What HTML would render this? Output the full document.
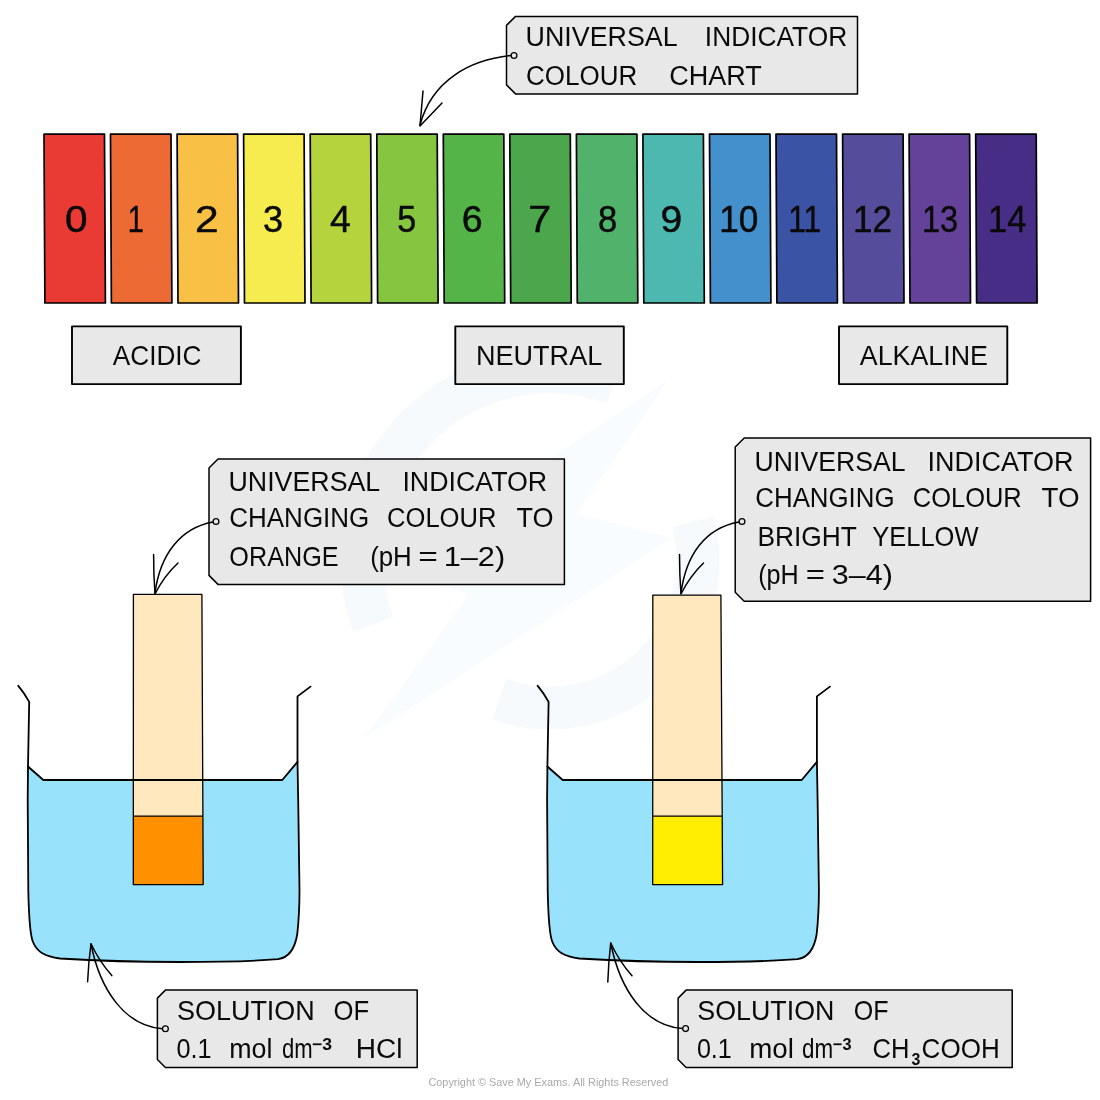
<!DOCTYPE html>
<html lang="en">
<head>
<meta charset="utf-8">
<title>Universal indicator colour chart</title>
<style>
html,body{margin:0;padding:0;background:#fff;}
body{width:1100px;height:1100px;overflow:hidden;}
svg{display:block;will-change:transform;}
text{font-family:"Liberation Sans","DejaVu Sans",sans-serif;fill:#0a0a0a;}
.c{fill:#a9a9a9;}
.box{fill:#e8e8e8;stroke:#000;stroke-width:1.9;stroke-linejoin:round;}
.cb{fill:#e8e8e8;stroke:#000;stroke-width:1.5;stroke-linejoin:round;}
.ln{fill:none;stroke:#000;stroke-width:1.8;stroke-linecap:round;stroke-linejoin:round;}
.ar{fill:none;stroke:#000;stroke-width:1.5;stroke-linecap:round;stroke-linejoin:round;}
</style>
</head>
<body>
<svg width="1100" height="1100" viewBox="0 0 1100 1100">
<rect x="0" y="0" width="1100" height="1100" fill="#ffffff"/>
<g fill="none" stroke="#f6fafd" stroke-width="43">
<path d="M 373.3,624.3 A 188,188 0 0 1 614.3,383.3"/>
<path d="M 693,521.7 A 148,148 0 0 1 499.4,699"/>
</g>
<path d="M668,380 L577,514 L672,538 L363,739 L468,596 L395,560 Z" fill="#f9fcfe"/>

<path d="M44.0,134.2 L104.5,134.2 L105.4,303 L44.9,303 Z" fill="#EA3A34" stroke="#000" stroke-width="1.7" stroke-linejoin="round"/>
<path d="M110.5,134.2 L171.0,134.2 L171.9,303 L111.4,303 Z" fill="#EE6A35" stroke="#000" stroke-width="1.7" stroke-linejoin="round"/>
<path d="M177.1,134.2 L237.6,134.2 L238.5,303 L178.0,303 Z" fill="#F8C044" stroke="#000" stroke-width="1.7" stroke-linejoin="round"/>
<path d="M243.6,134.2 L304.1,134.2 L305.0,303 L244.5,303 Z" fill="#F7EC4F" stroke="#000" stroke-width="1.7" stroke-linejoin="round"/>
<path d="M310.2,134.2 L370.7,134.2 L371.6,303 L311.1,303 Z" fill="#B5D33D" stroke="#000" stroke-width="1.7" stroke-linejoin="round"/>
<path d="M376.8,134.2 L437.2,134.2 L438.1,303 L377.6,303 Z" fill="#86C540" stroke="#000" stroke-width="1.7" stroke-linejoin="round"/>
<path d="M443.3,134.2 L503.8,134.2 L504.7,303 L444.2,303 Z" fill="#55B448" stroke="#000" stroke-width="1.7" stroke-linejoin="round"/>
<path d="M509.8,134.2 L570.3,134.2 L571.2,303 L510.7,303 Z" fill="#4CA64C" stroke="#000" stroke-width="1.7" stroke-linejoin="round"/>
<path d="M576.4,134.2 L636.9,134.2 L637.8,303 L577.3,303 Z" fill="#50B26B" stroke="#000" stroke-width="1.7" stroke-linejoin="round"/>
<path d="M642.9,134.2 L703.4,134.2 L704.3,303 L643.8,303 Z" fill="#4DB8B0" stroke="#000" stroke-width="1.7" stroke-linejoin="round"/>
<path d="M709.5,134.2 L770.0,134.2 L770.9,303 L710.4,303 Z" fill="#4390CC" stroke="#000" stroke-width="1.7" stroke-linejoin="round"/>
<path d="M776.0,134.2 L836.5,134.2 L837.4,303 L776.9,303 Z" fill="#3B53A4" stroke="#000" stroke-width="1.7" stroke-linejoin="round"/>
<path d="M842.6,134.2 L903.1,134.2 L904.0,303 L843.5,303 Z" fill="#564C9C" stroke="#000" stroke-width="1.7" stroke-linejoin="round"/>
<path d="M909.1,134.2 L969.6,134.2 L970.5,303 L910.0,303 Z" fill="#65429A" stroke="#000" stroke-width="1.7" stroke-linejoin="round"/>
<path d="M975.7,134.2 L1036.2,134.2 L1037.1,303 L976.6,303 Z" fill="#472D85" stroke="#000" stroke-width="1.7" stroke-linejoin="round"/>
<text stroke="#0a0a0a" stroke-width="0.45" stroke-linejoin="round" font-size="36.6" transform="translate(64.90,231.60) scale(1.1071,1)">0</text>
<text stroke="#0a0a0a" stroke-width="0.45" stroke-linejoin="round" font-size="36.6" transform="translate(127.66,231.60) scale(0.7883,1)">1</text>
<text stroke="#0a0a0a" stroke-width="0.45" stroke-linejoin="round" font-size="36.6" transform="translate(195.10,231.60) scale(1.1620,1)">2</text>
<text stroke="#0a0a0a" stroke-width="0.45" stroke-linejoin="round" font-size="36.6" transform="translate(262.88,231.60) scale(0.9865,1)">3</text>
<text stroke="#0a0a0a" stroke-width="0.45" stroke-linejoin="round" font-size="36.6" transform="translate(330.07,231.60) scale(1.0253,1)">4</text>
<text stroke="#0a0a0a" stroke-width="0.45" stroke-linejoin="round" font-size="36.6" transform="translate(397.26,231.60) scale(0.9347,1)">5</text>
<text stroke="#0a0a0a" stroke-width="0.45" stroke-linejoin="round" font-size="36.6" transform="translate(461.75,231.60) scale(1.0253,1)">6</text>
<text stroke="#0a0a0a" stroke-width="0.45" stroke-linejoin="round" font-size="36.6" transform="translate(528.26,231.60) scale(1.1259,1)">7</text>
<text stroke="#0a0a0a" stroke-width="0.45" stroke-linejoin="round" font-size="36.6" transform="translate(598.07,231.60) scale(0.9447,1)">8</text>
<text stroke="#0a0a0a" stroke-width="0.45" stroke-linejoin="round" font-size="36.6" transform="translate(660.57,231.60) scale(1.0665,1)">9</text>
<text stroke="#0a0a0a" stroke-width="0.45" stroke-linejoin="round" font-size="36.6" transform="translate(719.19,231.60) scale(0.9604,1)">10</text>
<text stroke="#0a0a0a" stroke-width="0.45" stroke-linejoin="round" font-size="36.6" transform="translate(788.24,231.60) scale(0.8674,1)">11</text>
<text stroke="#0a0a0a" stroke-width="0.45" stroke-linejoin="round" font-size="36.6" transform="translate(852.99,231.60) scale(0.9584,1)">12</text>
<text stroke="#0a0a0a" stroke-width="0.45" stroke-linejoin="round" font-size="36.6" transform="translate(921.99,231.60) scale(0.8883,1)">13</text>
<text stroke="#0a0a0a" stroke-width="0.45" stroke-linejoin="round" font-size="36.6" transform="translate(987.93,231.60) scale(0.9447,1)">14</text>
<rect class="box" x="72" y="326.4" width="168.9" height="57.7"/>
<text font-size="28.5" transform="translate(112.80,364.80) scale(0.9186,1)">ACIDIC</text>
<rect class="box" x="455.3" y="326.4" width="168.5" height="57.7"/>
<text font-size="28.5" transform="translate(476.04,364.80) scale(0.9490,1)">NEUTRAL</text>
<rect class="box" x="839" y="326.4" width="168.3" height="57.7"/>
<text font-size="28.5" transform="translate(859.80,364.80) scale(0.9409,1)">ALKALINE</text>
<path class="cb" d="M515.5,16.4 L857.5,16.4 L857.5,93.9 L515.5,93.9 L506.5,84.9 L506.5,25.4 Z"/>
<text font-size="28.0" transform="translate(525.59,46.00) scale(0.9588,1)">UNIVERSAL</text>
<text font-size="28.0" transform="translate(704.83,46.00) scale(0.9406,1)">INDICATOR</text>
<text font-size="28.0" transform="translate(526.00,84.70) scale(0.9287,1)">COLOUR</text>
<text font-size="28.0" transform="translate(669.15,84.70) scale(0.9666,1)">CHART</text>
<path class="ar" d="M511,55.5 C470,60 432,80 420,125"/>
<path class="ar" d="M423,91 L420,126 L442,103"/>
<circle cx="514" cy="55.5" r="2.9" fill="#e8e8e8" stroke="#000" stroke-width="1.3"/>
<g transform="translate(0,0)">
<path d="M28,766.5 L43.3,780 L282.3,780 L297.5,761.8 L298.2,800 L299.5,890 C299.5,905 298.8,920 297.3,934 C295,948 290,957.5 278,959.2 C255,961 220,962 179,962 C140,962 100,961 60,958.5 C45,956.5 37,952 33,942 C30,935 28.8,915 28.3,890 L27.7,800 Z" fill="#99e2fc"/>
<path d="M133.4,594.4 L201.9,594.4 L202.9,816.1 L133.3,816.1 Z" fill="#ffe7be"/>
<path d="M133.3,816.1 L202.9,816.1 L203.2,884.6 L133.3,884.6 Z" fill="#ff9000"/>
<path class="ln" style="stroke-width:1.3" d="M133.4,594.4 L201.9,594.4 L203.2,884.6 L133.3,884.6 Z M133.3,816.1 L202.9,816.1"/>
<path class="ln" d="M18.3,685.8 Q24,692.5 29.2,701.9 L28,766.5 L27.7,800 L28.3,890 C28.8,915 30,935 33,942 C37,952 45,956.5 60,958.5 C100,961 140,962 179,962 C220,962 255,961 278,959.2 C290,957.5 295,948 297.3,934 C298.8,920 299.5,905 299.5,890 L298.2,800 L297.5,761.8 L297.5,696.4 L310.5,686.6"/>
<path class="ln" d="M28,766.5 L43.3,780 L282.3,780 L297.5,761.8"/>
</g>
<g transform="translate(519.4,0)">
<path d="M28,766.5 L43.3,780 L282.3,780 L297.5,761.8 L298.2,800 L299.5,890 C299.5,905 298.8,920 297.3,934 C295,948 290,957.5 278,959.2 C255,961 220,962 179,962 C140,962 100,961 60,958.5 C45,956.5 37,952 33,942 C30,935 28.8,915 28.3,890 L27.7,800 Z" fill="#99e2fc"/>
<path d="M133.4,595.2 L201.5,595.2 L202.9,816.1 L133.3,816.1 Z" fill="#ffe7be"/>
<path d="M133.3,816.1 L202.9,816.1 L203.2,884.6 L133.3,884.6 Z" fill="#ffee00"/>
<path class="ln" style="stroke-width:1.3" d="M133.4,595.2 L201.5,595.2 L203.2,884.6 L133.3,884.6 Z M133.3,816.1 L202.9,816.1"/>
<path class="ln" d="M18.3,685.8 Q24,692.5 29.2,701.9 L28,766.5 L27.7,800 L28.3,890 C28.8,915 30,935 33,942 C37,952 45,956.5 60,958.5 C100,961 140,962 179,962 C220,962 255,961 278,959.2 C290,957.5 295,948 297.3,934 C298.8,920 299.5,905 299.5,890 L298.2,800 L297.5,761.8 L297.5,696.4 L310.5,686.6"/>
<path class="ln" d="M28,766.5 L43.3,780 L282.3,780 L297.5,761.8"/>
</g>
<path class="cb" d="M218,459 L564.4,459 L564.4,584.4 L218,584.4 L209,575.4 L209,468 Z"/>
<text font-size="27.4" transform="translate(228.49,491.30) scale(0.9778,1)">UNIVERSAL</text>
<text font-size="27.4" transform="translate(402.39,491.30) scale(0.9779,1)">INDICATOR</text>
<text font-size="27.4" transform="translate(229.20,527.00) scale(0.9497,1)">CHANGING</text>
<text font-size="27.4" transform="translate(387.02,527.00) scale(0.9342,1)">COLOUR</text>
<text font-size="27.4" transform="translate(516.46,527.00) scale(0.9872,1)">TO</text>
<text font-size="27.4" transform="translate(229.37,566.40) scale(0.9199,1)">ORANGE</text>
<text font-size="27.4" transform="translate(370.15,566.40) scale(0.9434,1)">(pH</text>
<text font-size="27.4" transform="translate(418.32,566.40) scale(1.2266,1)">=</text>
<text font-size="27.4" transform="translate(443.70,566.40) scale(1.1213,1)">1–2)</text>
<path class="ar" d="M213,522 C180,528 160,555 155,593"/>
<path class="ar" d="M153.6,554.5 Q153.6,575 155,594 Q164,576 178,563"/>
<circle cx="216" cy="521.5" r="2.9" fill="#e8e8e8" stroke="#000" stroke-width="1.3"/>
<path class="cb" d="M744.2,438 L1090.6,438 L1090.6,601.2 L744.2,601.2 L735.2,592.2 L735.2,447 Z"/>
<text font-size="27.4" transform="translate(754.60,471.20) scale(0.9719,1)">UNIVERSAL</text>
<text font-size="27.4" transform="translate(927.57,471.20) scale(0.9855,1)">INDICATOR</text>
<text font-size="27.4" transform="translate(755.31,506.90) scale(0.9434,1)">CHANGING</text>
<text font-size="27.4" transform="translate(912.83,506.90) scale(0.9290,1)">COLOUR</text>
<text font-size="27.4" transform="translate(1041.45,506.90) scale(1.0124,1)">TO</text>
<text font-size="27.4" transform="translate(757.39,545.90) scale(0.9613,1)">BRIGHT</text>
<text font-size="27.4" transform="translate(872.36,545.90) scale(0.9292,1)">YELLOW</text>
<text font-size="27.4" transform="translate(758.19,583.60) scale(0.9186,1)">(pH</text>
<text font-size="27.4" transform="translate(805.85,583.60) scale(1.2040,1)">=</text>
<text font-size="27.4" transform="translate(831.78,583.60) scale(1.1141,1)">3–4)</text>
<path class="ar" d="M739,522 C705,528 686,555 681,593"/>
<path class="ar" d="M679.5,554.5 Q679.5,575 681,594 Q690,576 703.5,563"/>
<circle cx="742" cy="521.5" r="2.9" fill="#e8e8e8" stroke="#000" stroke-width="1.3"/>
<path class="cb" d="M165.4,990.1 L417.2,990.1 L417.2,1067.5 L165.4,1067.5 L157.4,1059.5 L157.4,998.1 Z"/>
<text font-size="27.4" transform="translate(176.99,1019.80) scale(0.9840,1)">SOLUTION</text>
<text font-size="27.4" transform="translate(333.44,1019.80) scale(0.9369,1)">OF</text>
<text font-size="27.4" transform="translate(176.49,1057.80) scale(0.9229,1)">0.1</text>
<text font-size="27.4" transform="translate(229.26,1057.80) scale(0.9790,1)">mol</text>
<text font-size="27.4" transform="translate(281.92,1057.80) scale(0.8066,1)">dm</text>
<text font-weight="bold" font-size="16.6" transform="translate(312.10,1050.00) scale(1.0578,1)">−3</text>
<text font-size="27.4" transform="translate(355.76,1057.80) scale(1.0229,1)">HCl</text>
<path class="ar" d="M162.5,1028.8 C125,1026 100,990 91,944"/>
<path class="ar" d="M87.6,981.8 Q88.5,962 91,943.8 Q99,961 111.8,975.6"/>
<circle cx="165.4" cy="1028.8" r="2.9" fill="#e8e8e8" stroke="#000" stroke-width="1.3"/>
<path class="cb" d="M686.1,990.1 L1012.2,990.1 L1012.2,1067.5 L686.1,1067.5 L678.1,1059.5 L678.1,998.1 Z"/>
<text font-size="27.4" transform="translate(697.29,1019.80) scale(0.9788,1)">SOLUTION</text>
<text font-size="27.4" transform="translate(853.87,1019.80) scale(0.9145,1)">OF</text>
<text font-size="27.4" transform="translate(696.89,1057.80) scale(0.9173,1)">0.1</text>
<text font-size="27.4" transform="translate(749.20,1057.80) scale(1.0110,1)">mol</text>
<text font-size="27.4" transform="translate(802.10,1057.80) scale(0.8180,1)">dm</text>
<text font-weight="bold" font-size="16.6" transform="translate(832.85,1050.00) scale(0.9842,1)">−3</text>
<text font-size="27.4" transform="translate(872.52,1057.80) scale(0.9333,1)">CH</text>
<text font-weight="bold" font-size="16.6" transform="translate(911.50,1064.50) scale(0.9614,1)">3</text>
<text font-size="27.4" transform="translate(921.60,1057.80) scale(0.9499,1)">COOH</text>
<path class="ar" d="M682.7,1028.6 C645,1026 620,990 610.7,943"/>
<path class="ar" d="M607.8,982 Q608.5,962 610.7,943 Q619,961 632,975.8"/>
<circle cx="685.6" cy="1028.6" r="2.9" fill="#e8e8e8" stroke="#000" stroke-width="1.3"/>
<text class="c" font-size="10.9" transform="translate(428.46,1085.50) scale(0.9985,1)">Copyright © Save My Exams. All Rights Reserved</text>
</svg>
</body>
</html>
